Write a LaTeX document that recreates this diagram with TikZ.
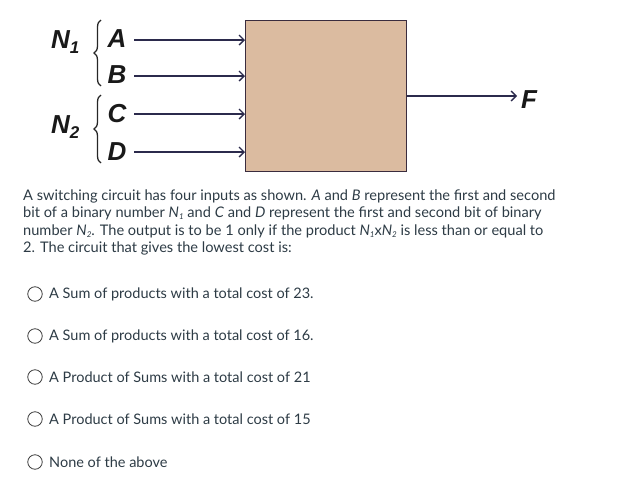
\documentclass[tikz,border=0pt]{standalone}
\usepackage{fontspec}
\setmainfont{Lato}
\newfontfamily\arialf{Liberation Sans}
\usetikzlibrary{arrows.meta,decorations.pathreplacing}
\definecolor{wire}{HTML}{2B2A4C}
\definecolor{boxfill}{HTML}{DBBBA0}
\definecolor{boxedge}{HTML}{3A2C3E}
\definecolor{txt}{HTML}{2D3B45}
\tikzset{
  x=1pt,y=-1pt,
  wirearrow/.style={draw=wire,line width=1.6pt,-{Straight Barb[length=5pt,width=10pt,line width=1.4pt]}},
  letter/.style={font=\arialf\bfseries\itshape\fontsize{26}{26}\selectfont,text=black!90,inner sep=0pt},
  para/.style={font=\fontsize{14.6}{17}\selectfont,text=txt,anchor=base west,inner sep=0pt},
  opt/.style={font=\fontsize{14.5}{17}\selectfont,text=txt,anchor=west,inner sep=0pt},
  radio/.style={circle,draw=black!75,line width=0.8pt,minimum size=14.5pt,inner sep=0pt},
  bracestyle/.style={draw=black!85,line width=1.3pt,decorate,decoration={brace,amplitude=7pt}}
}
\begin{document}
\begin{tikzpicture}
\useasboundingbox (0,0) rectangle (630,493);
% box
\node[draw=boxedge,fill=boxfill,line width=1.3pt,minimum width=161pt,minimum height=151pt,inner sep=0pt,anchor=north west] (box) at (245,20) {};
% letters
\node[letter] (A) at (117,39) {A};
\node[letter] (B) at (117,75) {B};
\node[letter] (C) at (117,114) {C};
\node[letter] (D) at (117,152) {D};
\node[letter] (F) at (529,100) {F};
\node[letter,anchor=base west] (N1) at (51,48) {N\raisebox{-5pt}{\fontsize{17}{17}\selectfont 1}};
\node[letter,anchor=base west] (N2) at (51,133) {N\raisebox{-5pt}{\fontsize{17}{17}\selectfont 2}};
% braces
\draw[bracestyle] (101,86) -- (101,20);
\draw[bracestyle] (101,163) -- (101,95);
% wires
\coordinate (As) at (134,40);
\coordinate (Bs) at (134,76);
\coordinate (Cs) at (134,114);
\coordinate (Ds) at (134,152);
\coordinate (Fe) at (517,96);
\draw[wirearrow] (As) -- (box.west |- As);
\draw[wirearrow] (Bs) -- (box.west |- Bs);
\draw[wirearrow] (Cs) -- (box.west |- Cs);
\draw[wirearrow] (Ds) -- (box.west |- Ds);
\draw[wirearrow] (box.east |- Fe) -- (Fe);
% paragraph
\node[para] (p1) at (23,200) {A switching circuit has four inputs as shown. \textit{A} and \textit{B} represent the first and second};
\node[para] (p2) at (23,217) {bit of a binary number \textit{N\raisebox{-2pt}{\footnotesize 1}} and \textit{C} and \textit{D} represent the first and second bit of binary};
\node[para] (p3) at (23,235) {number \textit{N\raisebox{-2pt}{\footnotesize 2}}. The output is to be 1 only if the product \textit{N\raisebox{-2pt}{\footnotesize 1}}x\textit{N\raisebox{-2pt}{\footnotesize 2}} is less than or equal to};
\node[para] (p4) at (23,252) {2. The circuit that gives the lowest cost is:};
% options
\node[radio] (r1) at (35,294) {};
\node[radio] (r2) at (35,336) {};
\node[radio] (r3) at (35,377) {};
\node[radio] (r4) at (35,419) {};
\node[radio] (r5) at (35,462) {};
\node[opt] (o1) at (49,294) {A Sum of products with a total cost of 23.};
\node[opt] (o2) at (49,336) {A Sum of products with a total cost of 16.};
\node[opt] (o3) at (49,377) {A Product of Sums with a total cost of 21};
\node[opt] (o4) at (49,419) {A Product of Sums with a total cost of 15};
\node[opt] (o5) at (49,462) {None of the above};
\end{tikzpicture}
\end{document}
